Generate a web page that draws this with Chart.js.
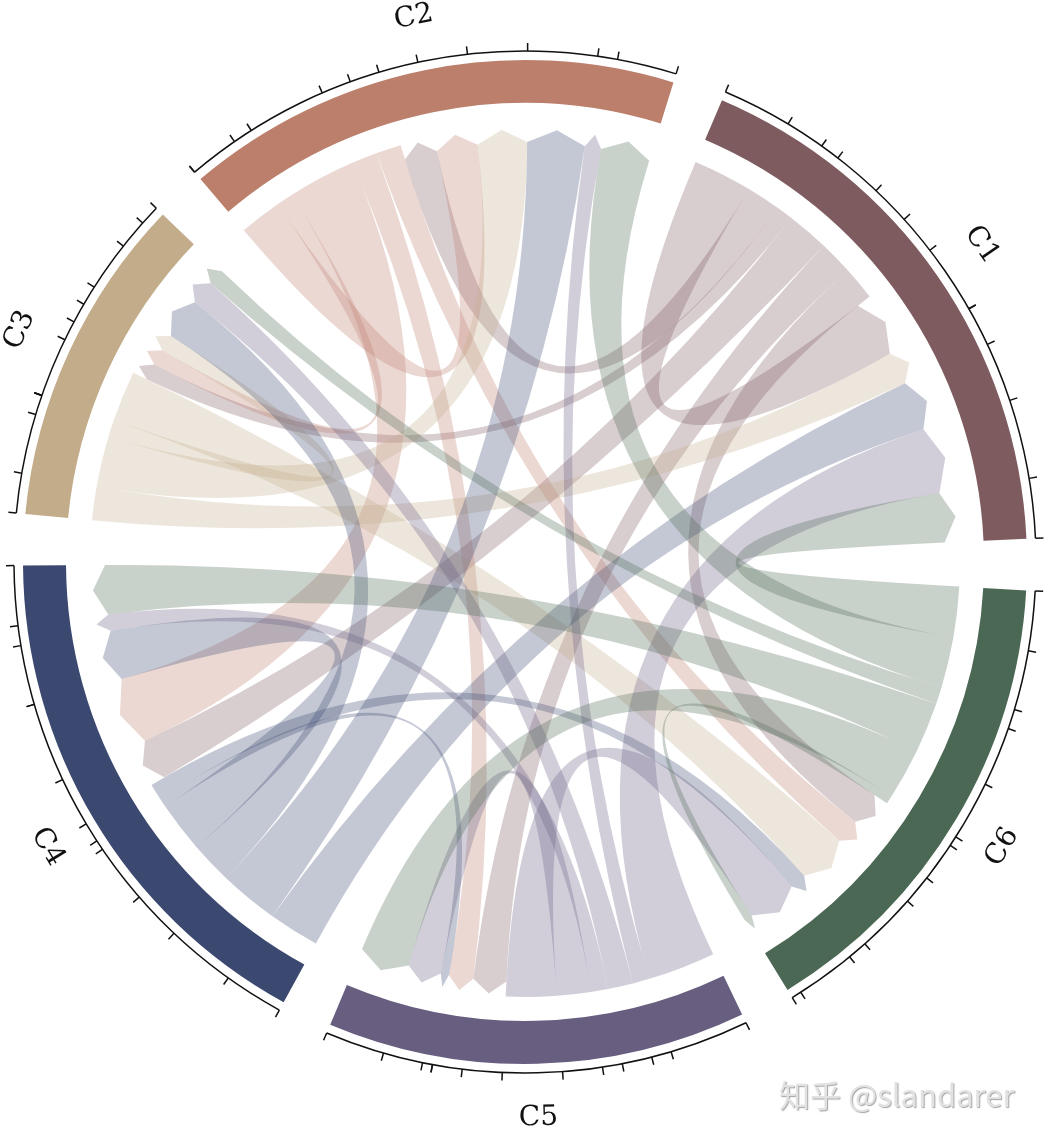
<!DOCTYPE html>
<html>
<head>
<meta charset="utf-8">
<script src="https://cdn.jsdelivr.net/npm/chart.js@4.4.1/dist/chart.umd.min.js"></script>
<style>
  html, body { margin: 0; padding: 0; background: #ffffff; }
  #wrap { width: 1046px; height: 1137px; position: relative; }
</style>
</head>
<body>
<div id="wrap"><canvas id="chordChart"></canvas></div>
<script>
// groups
const labels = ["C1", "C2", "C3", "C4", "C5", "C6"];
const groupColors = ["#7E5B5F", "#BC7F6C", "#C3AC8A", "#3B4870", "#675E80", "#4B6854"];

// flows from each group to C1..C6
const flowC1 = [7, 4, 2, 5, 4, 4];
const flowC2 = [0, 5, 2, 8, 3, 3];
const flowC3 = [4, 6, 2, 0, 0, 6];
const flowC4 = [6, 7, 5, 6, 1, 2];
const flowC5 = [8, 2, 3, 2, 4, 6];
const flowC6 = [6, 6, 2, 6, 6, 1];
const flows = [flowC1, flowC2, flowC3, flowC4, flowC5, flowC6];

// clockwise order of the groups round the circle, starting with C1
const ringOrder = [0, 5, 4, 3, 2, 1];

const GAP_DEG = 5.9;      // empty angle between two groups
const START_DEG = 23.1;   // where C1 begins, clockwise from 12 o'clock
const RIBBON_ALPHA = 0.3;

// radii in px
const R_OUT = 502, R_IN = 459;
const R_SRC = 435, R_HEAD = 420, R_TIP = 433;
const R_AXIS = 511, TICK_LEN = 8, R_LABEL = 556;

// totals: out + in for every group
const totals = labels.map((_, g) => {
  let s = 0;
  for (let k = 0; k < labels.length; k++) s += flows[g][k] + flows[k][g];
  return s;
});
const grandTotal = totals.reduce((a, b) => a + b, 0);
const unitDeg = (360 - labels.length * GAP_DEG) / grandTotal;
const gapValue = GAP_DEG / unitDeg;

const ringData = [];
const ringColors = [];
ringOrder.forEach((g) => {
  ringData.push(totals[g], gapValue);
  ringColors.push(groupColors[g], "rgba(0,0,0,0)");
});

function rgba(hex, a) {
  const n = parseInt(hex.slice(1), 16);
  return `rgba(${(n >> 16) & 255},${(n >> 8) & 255},${n & 255},${a})`;
}

const chordPlugin = {
  id: "chords",
  afterDatasetsDraw(chart) {
    const ctx = chart.ctx;
    const meta = chart.getDatasetMeta(0);
    const n = labels.length;
    let cx = 0, cy = 0;

    // angle slots: outgoing (to C1..C6) then incoming (from C1..C6), clockwise
    const outSlot = [], inSlot = [], ticks = [], spans = [];
    ringOrder.forEach((g, k) => {
      const arc = meta.data[k * 2];
      cx = arc.x; cy = arc.y;
      const per = (arc.endAngle - arc.startAngle) / totals[g];
      let a = arc.startAngle;
      const t = [a];
      outSlot[g] = []; inSlot[g] = [];
      for (let j = 0; j < n; j++) {
        outSlot[g][j] = [a, a + flows[g][j] * per];
        a += flows[g][j] * per;
        t.push(a);
      }
      for (let i = 0; i < n; i++) {
        inSlot[g][i] = [a, a + flows[i][g] * per];
        a += flows[i][g] * per;
        t.push(a);
      }
      ticks[g] = t;
      spans[g] = [arc.startAngle, arc.endAngle];
    });

    const pt = (r, ang) => [cx + r * Math.cos(ang), cy + r * Math.sin(ang)];

    ctx.save();
    // ribbons
    for (let i = 0; i < n; i++) {
      for (let j = 0; j < n; j++) {
        if (!flows[i][j]) continue;
        const [s0, s1] = outSlot[i][j];
        const [t0, t1] = inSlot[j][i];
        const p0 = pt(R_SRC, s0);
        const h0 = pt(R_HEAD, t0), tip = pt(R_TIP, (t0 + t1) / 2), h1 = pt(R_HEAD, t1);
        ctx.beginPath();
        ctx.moveTo(p0[0], p0[1]);
        ctx.arc(cx, cy, R_SRC, s0, s1, false);
        ctx.quadraticCurveTo(cx, cy, h0[0], h0[1]);
        ctx.lineTo(tip[0], tip[1]);
        ctx.lineTo(h1[0], h1[1]);
        ctx.quadraticCurveTo(cx, cy, p0[0], p0[1]);
        ctx.closePath();
        ctx.fillStyle = rgba(groupColors[i], RIBBON_ALPHA);
        ctx.fill();
      }
    }

    // axis arcs with ticks at every chord edge
    ctx.strokeStyle = "#111111";
    ctx.lineWidth = 1.5;
    for (let g = 0; g < n; g++) {
      ctx.beginPath();
      ctx.arc(cx, cy, R_AXIS, spans[g][0], spans[g][1], false);
      ctx.stroke();
      ticks[g].forEach((a) => {
        const q0 = pt(R_AXIS, a), q1 = pt(R_AXIS + TICK_LEN, a);
        ctx.beginPath();
        ctx.moveTo(q0[0], q0[1]);
        ctx.lineTo(q1[0], q1[1]);
        ctx.stroke();
      });
    }

    // group labels
    ctx.fillStyle = "#111111";
    ctx.font = "28px 'DejaVu Serif', serif";
    ctx.textAlign = "center";
    ctx.textBaseline = "middle";
    for (let g = 0; g < n; g++) {
      const mid = (spans[g][0] + spans[g][1]) / 2;
      const p = pt(R_LABEL, mid);
      let rot = mid + Math.PI / 2;
      if (Math.sin(mid) > 0) rot -= Math.PI;
      ctx.save();
      ctx.translate(p[0], p[1]);
      ctx.rotate(rot);
      ctx.fillText(labels[g], 0, 0);
      ctx.restore();
    }

    // watermark
    ctx.font = "31px 'Noto Sans CJK SC', sans-serif";
    ctx.textAlign = "left";
    ctx.shadowColor = "rgba(90,90,90,0.55)";
    ctx.shadowOffsetX = 1;
    ctx.shadowOffsetY = 1;
    ctx.shadowBlur = 1;
    ctx.fillStyle = "#e2e2e2";
    ctx.fillText("知乎 @slandarer", 779, 1095);
    ctx.restore();
  }
};

new Chart(document.getElementById("chordChart"), {
  type: "doughnut",
  data: {
    labels: ringOrder.flatMap((g) => [labels[g], ""]),
    datasets: [{
      data: ringData,
      backgroundColor: ringColors,
      borderWidth: 0,
      hoverOffset: 0
    }]
  },
  options: {
    responsive: true,
    maintainAspectRatio: false,
    animation: false,
    events: [],
    rotation: START_DEG,
    cutout: R_IN,
    layout: { padding: { left: 23, right: 19, top: 60, bottom: 73 } },
    plugins: {
      legend: { display: false },
      tooltip: { enabled: false }
    }
  },
  plugins: [chordPlugin]
});
</script>
</body>
</html>
